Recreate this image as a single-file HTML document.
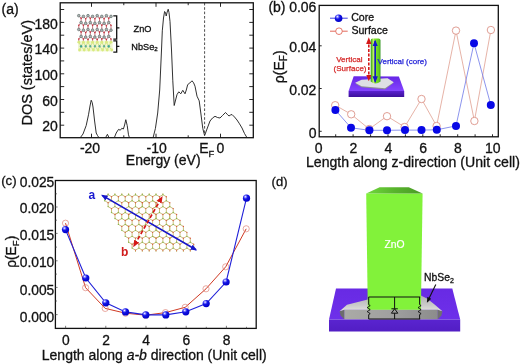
<!DOCTYPE html>
<html><head><meta charset="utf-8"><title>Figure</title>
<style>
html,body{margin:0;padding:0;background:#fff;}
body{width:520px;height:364px;overflow:hidden;}
svg{display:block;filter:blur(0.35px);}
text{font-family:"Liberation Sans",sans-serif;fill:#111;stroke:#111;stroke-width:0.3px;}
.t14{font-size:14px}
.t135{font-size:13.8px}
.ax{fill:none;stroke:#111;stroke-width:1.3}
.tk{stroke:#111;stroke-width:0.9;fill:none}
</style></head><body>
<svg width="520" height="364" viewBox="0 0 520 364">
<defs>
<radialGradient id="ball" cx="0.35" cy="0.3" r="0.7">
<stop offset="0" stop-color="#ffffff"/><stop offset="0.18" stop-color="#8a8aff"/><stop offset="0.45" stop-color="#1414e6"/><stop offset="1" stop-color="#0000c8"/>
</radialGradient>
<linearGradient id="ptop" x1="0" y1="0" x2="0" y2="1"><stop offset="0" stop-color="#682ae4"/><stop offset="1" stop-color="#6e30ea"/></linearGradient>
<linearGradient id="pfront" x1="0" y1="0" x2="0" y2="1"><stop offset="0" stop-color="#5a24d0"/><stop offset="1" stop-color="#521ec4"/></linearGradient>
<linearGradient id="ptop2" x1="0" y1="0" x2="0" y2="1"><stop offset="0" stop-color="#6626e6"/><stop offset="1" stop-color="#8444ff"/></linearGradient>
<linearGradient id="pfront2" x1="0" y1="0" x2="0" y2="1"><stop offset="0" stop-color="#5a20d0"/><stop offset="1" stop-color="#3c109a"/></linearGradient>
<linearGradient id="flkf" x1="0" y1="0" x2="1" y2="0"><stop offset="0" stop-color="#aaaaa6"/><stop offset="0.5" stop-color="#a0a0a0"/><stop offset="1" stop-color="#8c8c8c"/></linearGradient>
<linearGradient id="rodtop" x1="0" y1="0" x2="1" y2="0"><stop offset="0" stop-color="#70d83c"/><stop offset="0.5" stop-color="#58b42c"/><stop offset="1" stop-color="#4a9a26"/></linearGradient>
<linearGradient id="flk" x1="0" y1="0" x2="0" y2="1"><stop offset="0" stop-color="#b2b2b2"/><stop offset="0.6" stop-color="#cacaca"/><stop offset="1" stop-color="#e2e2de"/></linearGradient>
<linearGradient id="rodb" x1="0" y1="0" x2="1" y2="0">
<stop offset="0" stop-color="#3c9c28"/><stop offset="0.12" stop-color="#5cc422"/><stop offset="0.27" stop-color="#c8f070"/><stop offset="0.4" stop-color="#7ee030"/><stop offset="0.6" stop-color="#74dc24"/><stop offset="0.86" stop-color="#60c820"/><stop offset="1" stop-color="#3a9a28"/>
</linearGradient>
<marker id="ab" viewBox="0 0 10 10" refX="8" refY="5" markerWidth="4.2" markerHeight="4.2" orient="auto-start-reverse"><path d="M0,1 L10,5 L0,9 z" fill="#1616cc"/></marker>
<marker id="ar" viewBox="0 0 10 10" refX="6" refY="5" markerWidth="4.2" markerHeight="4.2" orient="auto-start-reverse"><path d="M0,1 L10,5 L0,9 z" fill="#d41818"/></marker>
<marker id="ak" viewBox="0 0 10 10" refX="8" refY="5" markerWidth="5" markerHeight="5" orient="auto"><path d="M0,1 L10,5 L0,9 z" fill="#111"/></marker>
</defs>
<rect width="520" height="364" fill="#fff"/>

<g id="panel-a">
<rect class="ax" x="60.2" y="2.8" width="193.10000000000002" height="134.89999999999998"/>
<path class="tk" d="M60.2,125.2h4.0M253.3,125.2h-4.0M60.2,112.3h4.0M253.3,112.3h-4.0M60.2,99.5h4.0M253.3,99.5h-4.0M60.2,86.6h4.0M253.3,86.6h-4.0M60.2,73.8h4.0M253.3,73.8h-4.0M60.2,60.9h4.0M253.3,60.9h-4.0M60.2,48.1h4.0M253.3,48.1h-4.0M60.2,35.2h4.0M253.3,35.2h-4.0M60.2,22.4h4.0M253.3,22.4h-4.0M60.2,9.5h4.0M253.3,9.5h-4.0M91.5,137.7v-4.0M91.5,2.8v4.0M123.8,137.7v-2.4M123.8,2.8v2.4M156.0,137.7v-4.0M156.0,2.8v4.0M188.2,137.7v-2.4M188.2,2.8v2.4M220.5,137.7v-4.0M220.5,2.8v4.0"/>
<text class="t14" x="57.8" y="28.6" text-anchor="end">180</text>
<text class="t14" x="57.8" y="54.3" text-anchor="end">140</text>
<text class="t14" x="57.8" y="80.0" text-anchor="end">100</text>
<text class="t14" x="57.8" y="105.7" text-anchor="end">60</text>
<text class="t14" x="57.8" y="131.3" text-anchor="end">20</text>
<text class="t14" x="90" y="153" text-anchor="middle">-20</text>
<text class="t14" x="156.6" y="153" text-anchor="middle">-10</text>
<text class="t14" x="220.4" y="153" text-anchor="middle">0</text>
<text class="t14" x="199.3" y="153.3">E<tspan font-size="9.4" dy="3.6" dx="-0.2">F</tspan></text>
<text class="t14" x="163.2" y="164.8" text-anchor="middle">Energy (eV)</text>
<text font-size="14.5" transform="translate(32,72.8) rotate(-90)" text-anchor="middle">DOS (states/eV)</text>
<text font-size="14" x="1.5" y="14.2">(a)</text>
<path d="M80.0,138.0 L83.0,134.0 L86.2,125.5 L88.5,114.8 L90.0,106.0 L91.2,100.2 L92.2,102.5 L93.0,107.0 L94.6,121.0 L96.2,133.0 L97.5,135.5 L99.2,138.0 M105.4,138.0 L107.4,134.3 L109.2,138.0 M114.2,138.0 L116.2,133.0 L118.5,129.4 L120.3,130.2 L121.8,128.3 L123.4,129.0 L124.6,125.0 L125.8,119.7 L127.2,125.5 L128.5,134.8 L129.5,138.0 M153.0,138.0 L155.4,128.5 L157.7,113.0 L159.7,90.0 L161.5,50.0 L162.3,30.8 L163.5,18.0 L164.6,11.5 L165.5,12.5 L166.2,16.0 L167.2,12.0 L168.2,9.2 L169.0,12.5 L170.0,21.5 L171.5,50.0 L172.8,80.8 L174.2,105.5 L175.6,100.0 L177.0,94.6 L178.8,91.8 L180.8,93.8 L182.8,90.3 L185.0,93.8 L186.3,90.0 L187.7,84.6 L189.8,83.0 L192.0,80.8 L193.6,82.8 L195.0,86.2 L197.0,96.2 L199.2,100.8 L200.8,113.0 L202.8,128.5 L204.6,135.6 L207.0,129.0 L210.0,121.0 L212.5,118.0 L215.0,116.3 L217.5,117.5 L220.0,118.0 L222.5,115.5 L225.5,112.5 L227.5,114.6 L229.0,116.0 L230.5,115.0 L232.0,114.5 L234.5,117.0 L237.0,120.0 L239.5,123.8 L242.0,128.0 L244.5,133.5 L247.0,137.7" fill="none" stroke="#1a1a1a" stroke-width="0.9" stroke-linejoin="round"/>
<path d="M204.6,2.8 V135" stroke="#222" stroke-width="0.8" stroke-dasharray="2.6 1.8" fill="none"/>
<g id="a-inset">
<path d="M78.8,15.7L81.1,18.3M81.1,18.3L83.4,16.4M81.1,18.3v4.3M83.4,16.4L85.7,18.8M85.7,18.8L88.0,15.7M85.7,18.8v4.3M88.0,15.7L90.3,18.3M90.3,18.3L92.6,16.4M90.3,18.3v4.3M92.6,16.4L94.9,18.8M94.9,18.8L97.2,15.7M94.9,18.8v4.3M97.2,15.7L99.5,18.3M99.5,18.3L101.8,16.4M99.5,18.3v4.3M101.8,16.4L104.1,18.8M104.1,18.8L106.4,15.7M104.1,18.8v4.3M106.4,15.7L108.7,18.3M108.7,18.3L111.0,16.4M108.7,18.3v4.3M81.1,22.6L83.4,25.2M83.4,25.2L85.7,23.3M83.4,25.2v4.3M85.7,23.3L88.0,25.7M88.0,25.7L90.3,22.6M88.0,25.7v4.3M90.3,22.6L92.6,25.2M92.6,25.2L94.9,23.3M92.6,25.2v4.3M94.9,23.3L97.2,25.7M97.2,25.7L99.5,22.6M97.2,25.7v4.3M99.5,22.6L101.8,25.2M101.8,25.2L104.1,23.3M101.8,25.2v4.3M104.1,23.3L106.4,25.7M106.4,25.7L108.7,22.6M106.4,25.7v4.3M108.7,22.6L111.0,25.2M111.0,25.2v4.3M78.8,25.2L81.1,22.6M78.8,25.2v4.3M78.8,29.5L81.1,32.1M81.1,32.1L83.4,30.2M81.1,32.1v4.3M83.4,30.2L85.7,32.6M85.7,32.6L88.0,29.5M85.7,32.6v4.3M88.0,29.5L90.3,32.1M90.3,32.1L92.6,30.2M90.3,32.1v4.3M92.6,30.2L94.9,32.6M94.9,32.6L97.2,29.5M94.9,32.6v4.3M97.2,29.5L99.5,32.1M99.5,32.1L101.8,30.2M99.5,32.1v4.3M101.8,30.2L104.1,32.6M104.1,32.6L106.4,29.5M104.1,32.6v4.3M106.4,29.5L108.7,32.1M108.7,32.1L111.0,30.2M108.7,32.1v4.3M81.1,36.4L83.4,39.0M83.4,39.0L85.7,37.1M83.4,39.0v3.2M85.7,37.1L88.0,39.5M88.0,39.5L90.3,36.4M88.0,39.5v3.2M90.3,36.4L92.6,39.0M92.6,39.0L94.9,37.1M92.6,39.0v3.2M94.9,37.1L97.2,39.5M97.2,39.5L99.5,36.4M97.2,39.5v3.2M99.5,36.4L101.8,39.0M101.8,39.0L104.1,37.1M101.8,39.0v3.2M104.1,37.1L106.4,39.5M106.4,39.5L108.7,36.4M106.4,39.5v3.2M108.7,36.4L111.0,39.0M111.0,39.0v3.2M78.8,39.0L81.1,36.4M78.8,39.0v3.2" stroke="#b4505c" stroke-width="0.8" fill="none"/>
<circle cx="81.1" cy="18.3" r="0.8" fill="#c8323c"/>
<circle cx="85.7" cy="18.8" r="0.8" fill="#c8323c"/>
<circle cx="90.3" cy="18.3" r="0.8" fill="#c8323c"/>
<circle cx="94.9" cy="18.8" r="0.8" fill="#c8323c"/>
<circle cx="99.5" cy="18.3" r="0.8" fill="#c8323c"/>
<circle cx="104.1" cy="18.8" r="0.8" fill="#c8323c"/>
<circle cx="108.7" cy="18.3" r="0.8" fill="#c8323c"/>
<circle cx="83.4" cy="25.2" r="0.8" fill="#c8323c"/>
<circle cx="88.0" cy="25.7" r="0.8" fill="#c8323c"/>
<circle cx="92.6" cy="25.2" r="0.8" fill="#c8323c"/>
<circle cx="97.2" cy="25.7" r="0.8" fill="#c8323c"/>
<circle cx="101.8" cy="25.2" r="0.8" fill="#c8323c"/>
<circle cx="106.4" cy="25.7" r="0.8" fill="#c8323c"/>
<circle cx="111.0" cy="25.2" r="0.8" fill="#c8323c"/>
<circle cx="78.8" cy="25.2" r="0.8" fill="#c8323c"/>
<circle cx="81.1" cy="32.1" r="0.8" fill="#c8323c"/>
<circle cx="85.7" cy="32.6" r="0.8" fill="#c8323c"/>
<circle cx="90.3" cy="32.1" r="0.8" fill="#c8323c"/>
<circle cx="94.9" cy="32.6" r="0.8" fill="#c8323c"/>
<circle cx="99.5" cy="32.1" r="0.8" fill="#c8323c"/>
<circle cx="104.1" cy="32.6" r="0.8" fill="#c8323c"/>
<circle cx="108.7" cy="32.1" r="0.8" fill="#c8323c"/>
<circle cx="83.4" cy="39.0" r="0.8" fill="#c8323c"/>
<circle cx="88.0" cy="39.5" r="0.8" fill="#c8323c"/>
<circle cx="92.6" cy="39.0" r="0.8" fill="#c8323c"/>
<circle cx="97.2" cy="39.5" r="0.8" fill="#c8323c"/>
<circle cx="101.8" cy="39.0" r="0.8" fill="#c8323c"/>
<circle cx="106.4" cy="39.5" r="0.8" fill="#c8323c"/>
<circle cx="111.0" cy="39.0" r="0.8" fill="#c8323c"/>
<circle cx="78.8" cy="39.0" r="0.8" fill="#c8323c"/>
<circle cx="78.8" cy="15.7" r="1.35" fill="#aab4b2" stroke="#5a6664" stroke-width="0.6"/>
<circle cx="83.4" cy="16.4" r="1.35" fill="#aab4b2" stroke="#5a6664" stroke-width="0.6"/>
<circle cx="88.0" cy="15.7" r="1.35" fill="#aab4b2" stroke="#5a6664" stroke-width="0.6"/>
<circle cx="92.6" cy="16.4" r="1.35" fill="#aab4b2" stroke="#5a6664" stroke-width="0.6"/>
<circle cx="97.2" cy="15.7" r="1.35" fill="#aab4b2" stroke="#5a6664" stroke-width="0.6"/>
<circle cx="101.8" cy="16.4" r="1.35" fill="#aab4b2" stroke="#5a6664" stroke-width="0.6"/>
<circle cx="106.4" cy="15.7" r="1.35" fill="#aab4b2" stroke="#5a6664" stroke-width="0.6"/>
<circle cx="111.0" cy="16.4" r="1.35" fill="#aab4b2" stroke="#5a6664" stroke-width="0.6"/>
<circle cx="81.1" cy="22.6" r="1.35" fill="#aab4b2" stroke="#5a6664" stroke-width="0.6"/>
<circle cx="85.7" cy="23.3" r="1.35" fill="#aab4b2" stroke="#5a6664" stroke-width="0.6"/>
<circle cx="90.3" cy="22.6" r="1.35" fill="#aab4b2" stroke="#5a6664" stroke-width="0.6"/>
<circle cx="94.9" cy="23.3" r="1.35" fill="#aab4b2" stroke="#5a6664" stroke-width="0.6"/>
<circle cx="99.5" cy="22.6" r="1.35" fill="#aab4b2" stroke="#5a6664" stroke-width="0.6"/>
<circle cx="104.1" cy="23.3" r="1.35" fill="#aab4b2" stroke="#5a6664" stroke-width="0.6"/>
<circle cx="108.7" cy="22.6" r="1.35" fill="#aab4b2" stroke="#5a6664" stroke-width="0.6"/>
<circle cx="78.8" cy="29.5" r="1.35" fill="#aab4b2" stroke="#5a6664" stroke-width="0.6"/>
<circle cx="83.4" cy="30.2" r="1.35" fill="#aab4b2" stroke="#5a6664" stroke-width="0.6"/>
<circle cx="88.0" cy="29.5" r="1.35" fill="#aab4b2" stroke="#5a6664" stroke-width="0.6"/>
<circle cx="92.6" cy="30.2" r="1.35" fill="#aab4b2" stroke="#5a6664" stroke-width="0.6"/>
<circle cx="97.2" cy="29.5" r="1.35" fill="#aab4b2" stroke="#5a6664" stroke-width="0.6"/>
<circle cx="101.8" cy="30.2" r="1.35" fill="#aab4b2" stroke="#5a6664" stroke-width="0.6"/>
<circle cx="106.4" cy="29.5" r="1.35" fill="#aab4b2" stroke="#5a6664" stroke-width="0.6"/>
<circle cx="111.0" cy="30.2" r="1.35" fill="#aab4b2" stroke="#5a6664" stroke-width="0.6"/>
<circle cx="81.1" cy="36.4" r="1.35" fill="#aab4b2" stroke="#5a6664" stroke-width="0.6"/>
<circle cx="85.7" cy="37.1" r="1.35" fill="#aab4b2" stroke="#5a6664" stroke-width="0.6"/>
<circle cx="90.3" cy="36.4" r="1.35" fill="#aab4b2" stroke="#5a6664" stroke-width="0.6"/>
<circle cx="94.9" cy="37.1" r="1.35" fill="#aab4b2" stroke="#5a6664" stroke-width="0.6"/>
<circle cx="99.5" cy="36.4" r="1.35" fill="#aab4b2" stroke="#5a6664" stroke-width="0.6"/>
<circle cx="104.1" cy="37.1" r="1.35" fill="#aab4b2" stroke="#5a6664" stroke-width="0.6"/>
<circle cx="108.7" cy="36.4" r="1.35" fill="#aab4b2" stroke="#5a6664" stroke-width="0.6"/>
<rect x="78" y="40.8" width="34.6" height="10.6" fill="#e8f2b0" opacity="0.6"/>
<path d="M78.8,42.2L81.1,46.3L79.6,50M81.1,46.3L83.4,42.2M81.1,46.3L84.2,50M83.4,42.2L85.7,46.3L84.2,50M85.7,46.3L88.0,42.2M85.7,46.3L88.8,50M88.0,42.2L90.3,46.3L88.8,50M90.3,46.3L92.6,42.2M90.3,46.3L93.4,50M92.6,42.2L94.9,46.3L93.4,50M94.9,46.3L97.2,42.2M94.9,46.3L98.0,50M97.2,42.2L99.5,46.3L98.0,50M99.5,46.3L101.8,42.2M99.5,46.3L102.6,50M101.8,42.2L104.1,46.3L102.6,50M104.1,46.3L106.4,42.2M104.1,46.3L107.2,50M106.4,42.2L108.7,46.3L107.2,50M108.7,46.3L111.0,42.2M108.7,46.3L111.8,50" stroke="#cbde78" stroke-width="0.8" fill="none"/>
<circle cx="78.8" cy="42.2" r="1.4" fill="#d8ea80"/>
<circle cx="79.6" cy="50.0" r="1.4" fill="#d8ea80"/>
<circle cx="83.4" cy="42.2" r="1.4" fill="#d8ea80"/>
<circle cx="84.2" cy="50.0" r="1.4" fill="#d8ea80"/>
<circle cx="88.0" cy="42.2" r="1.4" fill="#d8ea80"/>
<circle cx="88.8" cy="50.0" r="1.4" fill="#d8ea80"/>
<circle cx="92.6" cy="42.2" r="1.4" fill="#d8ea80"/>
<circle cx="93.4" cy="50.0" r="1.4" fill="#d8ea80"/>
<circle cx="97.2" cy="42.2" r="1.4" fill="#d8ea80"/>
<circle cx="98.0" cy="50.0" r="1.4" fill="#d8ea80"/>
<circle cx="101.8" cy="42.2" r="1.4" fill="#d8ea80"/>
<circle cx="102.6" cy="50.0" r="1.4" fill="#d8ea80"/>
<circle cx="106.4" cy="42.2" r="1.4" fill="#d8ea80"/>
<circle cx="107.2" cy="50.0" r="1.4" fill="#d8ea80"/>
<circle cx="111.0" cy="42.2" r="1.4" fill="#d8ea80"/>
<circle cx="111.8" cy="50.0" r="1.4" fill="#d8ea80"/>
<circle cx="81.1" cy="46.3" r="1.15" fill="#3aa898" stroke="#2e8c7e" stroke-width="0.3"/>
<circle cx="85.7" cy="46.3" r="0.95" fill="#62b4a2" stroke="#2e8c7e" stroke-width="0.3"/>
<circle cx="90.3" cy="46.3" r="0.95" fill="#62b4a2" stroke="#2e8c7e" stroke-width="0.3"/>
<circle cx="94.9" cy="46.3" r="0.95" fill="#62b4a2" stroke="#2e8c7e" stroke-width="0.3"/>
<circle cx="99.5" cy="46.3" r="0.95" fill="#62b4a2" stroke="#2e8c7e" stroke-width="0.3"/>
<circle cx="104.1" cy="46.3" r="0.95" fill="#62b4a2" stroke="#2e8c7e" stroke-width="0.3"/>
<circle cx="108.7" cy="46.3" r="1.15" fill="#3aa898" stroke="#2e8c7e" stroke-width="0.3"/>
</g>
<path d="M113.3,15.8H116.7V39.1H113.3M116.7,27.9H119.4M113.3,40.9H116.7V52.1H113.3M116.7,46.4H119.4" fill="none" stroke="#111" stroke-width="1.3"/>
<text font-size="9.2" x="133.6" y="31.5">ZnO</text>
<text font-size="9.2" x="131.3" y="49.6">NbSe<tspan font-size="6.2" dy="1.8">2</tspan></text>
</g>
<g id="panel-b">
<rect class="ax" x="319.2" y="5.4" width="179.10000000000002" height="131.4"/>
<path class="tk" d="M319.2,45.8h2.5M319.2,88.5h2.5M319.2,131.3h2.5M335.7,136.8v-2.5M353.1,136.8v-2.5M370.6,136.8v-2.5M388.0,136.8v-2.5M405.4,136.8v-2.5M422.8,136.8v-2.5M440.2,136.8v-2.5M457.7,136.8v-2.5M475.1,136.8v-2.5M492.5,136.8v-2.5"/>
<text class="t14" x="316.4" y="11.5" text-anchor="end">0.06</text>
<text class="t14" x="316.4" y="52.4" text-anchor="end">0.04</text>
<text class="t14" x="316.4" y="94.6" text-anchor="end">0.02</text>
<text class="t14" x="316.6" y="138" text-anchor="end">0</text>
<text class="t14" x="318.6" y="153.2" text-anchor="middle">0</text>
<text class="t14" x="353.4" y="153.2" text-anchor="middle">2</text>
<text class="t14" x="388.3" y="153.2" text-anchor="middle">4</text>
<text class="t14" x="423.1" y="153.2" text-anchor="middle">6</text>
<text class="t14" x="458.0" y="153.2" text-anchor="middle">8</text>
<text class="t14" x="492.8" y="153.2" text-anchor="middle">10</text>
<text font-size="14.1" x="306" y="167">Length along z-direction (Unit cell)</text>
<text class="t14" transform="translate(283.6,66.8) rotate(-90)" text-anchor="middle">ρ(E<tspan font-size="10" dy="3">F</tspan><tspan dy="-3">)</tspan></text>
<text font-size="14" x="268.4" y="11.5">(b)</text>
<path d="M335.2,105.2 L351.2,114.3 L369.2,129.0 L387.0,116.2 L404.6,127.0 L421.5,99.0 L436.6,126.0 L456.0,30.6 L474.4,121.0 L490.9,30.0" fill="none" stroke="#e0a090" stroke-width="0.8"/>
<path d="M335.4,110.0 L351.0,127.8 L369.4,130.3 L387.0,130.3 L405.0,130.1 L421.5,130.1 L436.8,129.8 L456.0,125.9 L474.0,43.3 L490.8,105.0" fill="none" stroke="#6e78e8" stroke-width="0.8"/>
<circle cx="335.2" cy="105.2" r="3.7" fill="#fff" stroke="#d8877a" stroke-width="0.8"/>
<circle cx="351.2" cy="114.3" r="3.7" fill="#fff" stroke="#d8877a" stroke-width="0.8"/>
<circle cx="369.2" cy="129" r="3.7" fill="#fff" stroke="#d8877a" stroke-width="0.8"/>
<circle cx="387" cy="116.2" r="3.7" fill="#fff" stroke="#d8877a" stroke-width="0.8"/>
<circle cx="404.6" cy="127" r="3.7" fill="#fff" stroke="#d8877a" stroke-width="0.8"/>
<circle cx="421.5" cy="99" r="3.7" fill="#fff" stroke="#d8877a" stroke-width="0.8"/>
<circle cx="436.6" cy="126" r="3.7" fill="#fff" stroke="#d8877a" stroke-width="0.8"/>
<circle cx="456" cy="30.6" r="3.7" fill="#fff" stroke="#d8877a" stroke-width="0.8"/>
<circle cx="474.4" cy="121" r="3.7" fill="#fff" stroke="#d8877a" stroke-width="0.8"/>
<circle cx="490.9" cy="30" r="3.7" fill="#fff" stroke="#d8877a" stroke-width="0.8"/>
<circle cx="335.4" cy="110" r="4" fill="#0808e6"/>
<circle cx="351" cy="127.8" r="4" fill="#0808e6"/>
<circle cx="369.4" cy="130.3" r="4" fill="#0808e6"/>
<circle cx="387" cy="130.3" r="4" fill="#0808e6"/>
<circle cx="405" cy="130.1" r="4" fill="#0808e6"/>
<circle cx="421.5" cy="130.1" r="4" fill="#0808e6"/>
<circle cx="436.8" cy="129.8" r="4" fill="#0808e6"/>
<circle cx="456" cy="125.9" r="4" fill="#0808e6"/>
<circle cx="474" cy="43.3" r="4" fill="#0808e6"/>
<circle cx="490.8" cy="105" r="4" fill="#0808e6"/>
<path d="M330,18.2H347.7" stroke="#2a2ae0" stroke-width="0.9"/><circle cx="338.6" cy="18.2" r="3.8" fill="url(#ball)"/>
<path d="M330,31.2H347.7" stroke="#e05848" stroke-width="0.9"/><circle cx="339" cy="31.2" r="3.3" fill="#fff" stroke="#e05848" stroke-width="0.8"/>
<text font-size="10.6" x="351.2" y="21">Core</text>
<text font-size="10.6" x="351.4" y="33.7">Surface</text>
<g id="b-inset">
<polygon points="353.7,76.2 398.9,76.4 404.2,91 348.6,91" fill="url(#ptop2)"/>
<polygon points="348.6,91 404.2,91 404.2,97 348.6,97" fill="url(#pfront2)"/>
<polygon points="355.2,83.4 361.6,80.2 387.6,78.6 393.7,82.8 385,89.4 361.6,87.3" fill="#8e8e96"/>
<polygon points="355.2,82.8 361.6,79.8 387.6,78.2 393.7,82.2 385,88.2 361.6,86.2" fill="#dedee4"/>
<path d="M370.7,40.6Q370.7,38.6 372.7,38.6H378.5Q380.5,38.6 380.5,40.6V81.6Q375.6,85.6 370.7,81.6Z" fill="url(#rodb)"/>
<path d="M375.2,41V81.6" stroke="#1616cc" stroke-width="1.6" marker-start="url(#ab)" marker-end="url(#ab)" fill="none"/>
<path d="M368.8,40V78.6" stroke="#d41818" stroke-width="1.6" stroke-dasharray="3 1.5" marker-start="url(#ar)" marker-end="url(#ar)" fill="none"/>
<text font-size="8" x="336.2" y="61.8" style="fill:#d62a2a;stroke:#d62a2a;stroke-width:0.25">Vertical</text>
<text font-size="8" x="333.6" y="71.4" style="fill:#d62a2a;stroke:#d62a2a;stroke-width:0.25">(Surface)</text>
<text font-size="8" x="377.6" y="63.7" style="fill:#2222d8;stroke:#2222d8;stroke-width:0.25">Vertical (core)</text>
</g>
</g>
<g id="panel-c">
<rect class="ax" x="55.4" y="180.5" width="200.79999999999998" height="147.89999999999998"/>
<path class="tk" style="stroke:#444;stroke-width:0.7" d="M55.4,207h2.2M55.4,233.4h2.2M55.4,260.8h2.2M55.4,287.4h2.2M55.4,314.6h2.2M55.4,220.2h1.6M55.4,247.1h1.6M55.4,274.1h1.6M55.4,301.0h1.6M55.4,193.8h1.6M65.6,328.4v-2.6M85.7,328.4v-1.6M105.8,328.4v-2.6M125.9,328.4v-1.6M146.0,328.4v-2.6M166.1,328.4v-1.6M186.2,328.4v-2.6M206.3,328.4v-1.6M226.4,328.4v-2.6M246.5,328.4v-1.6"/>
<text class="t135" x="54.3" y="187.1" text-anchor="end">0.025</text>
<text class="t135" x="54.3" y="213.0" text-anchor="end">0.020</text>
<text class="t135" x="54.3" y="239.5" text-anchor="end">0.015</text>
<text class="t135" x="54.3" y="266.8" text-anchor="end">0.010</text>
<text class="t135" x="54.3" y="294.6" text-anchor="end">0.005</text>
<text class="t135" x="54.3" y="321.5" text-anchor="end">0.000</text>
<text class="t135" x="65.8" y="344.6" text-anchor="middle">0</text>
<text class="t135" x="106.0" y="344.6" text-anchor="middle">2</text>
<text class="t135" x="146.2" y="344.6" text-anchor="middle">4</text>
<text class="t135" x="186.4" y="344.6" text-anchor="middle">6</text>
<text class="t135" x="226.6" y="344.6" text-anchor="middle">8</text>
<text font-size="14" x="41.8" y="359.6">Length along <tspan font-style="italic">a-b</tspan> direction (Unit cell)</text>
<text class="t135" transform="translate(15.6,251.8) rotate(-90)" text-anchor="middle">ρ(E<tspan font-size="9.6" dy="3">F</tspan><tspan dy="-3">)</tspan></text>
<text font-size="13.2" x="1.2" y="185.2">(c)</text>
<g id="c-inset">
<path d="M104.7,196.7L104.7,200.7M104.7,196.7L108.1,194.7M104.7,200.7L108.1,202.7M108.1,194.7L111.5,196.7M108.1,202.7L108.1,206.6M108.1,202.7L111.5,200.7M108.1,206.6L111.5,208.6M111.5,196.7L111.5,200.7M111.5,196.7L114.9,194.7M111.5,200.7L114.9,202.7M111.5,208.6L111.5,212.5M111.5,208.6L114.9,206.6M111.5,212.5L114.9,214.5M114.9,194.7L118.4,196.7M114.9,202.7L114.9,206.6M114.9,202.7L118.4,200.7M114.9,206.6L118.4,208.6M114.9,214.5L118.4,212.5M115.0,214.5L115.0,218.5M115.0,214.5L118.4,212.5M115.0,218.5L118.4,220.5M118.4,196.7L118.4,200.7M118.4,196.7L121.8,194.7M118.4,200.7L121.8,202.7M118.4,208.6L118.4,212.5M118.4,208.6L121.8,206.6M118.4,212.5L121.8,214.5M118.4,220.5L118.4,224.4M118.4,220.5L121.8,218.5M118.4,224.4L121.8,226.4M121.8,194.7L125.2,196.7M121.8,202.7L121.8,206.6M121.8,202.7L125.2,200.7M121.8,206.6L125.2,208.6M121.8,214.5L121.8,218.5M121.8,214.5L125.2,212.5M121.8,218.5L125.2,220.5M121.8,226.4L121.8,230.3M121.8,226.4L125.2,224.4M121.8,230.3L125.2,232.3M125.2,196.7L125.2,200.7M125.2,196.7L128.6,194.7M125.2,200.7L128.6,202.7M125.2,200.7L128.7,202.7M125.2,208.6L125.2,212.5M125.2,208.6L128.7,206.6M125.2,212.5L128.7,214.5M125.2,220.5L125.2,224.4M125.2,220.5L128.6,218.5M125.2,220.5L128.7,218.5M125.2,224.4L128.6,226.4M125.2,224.4L128.7,226.4M125.2,232.3L125.2,236.3M125.2,232.3L128.6,230.3M125.2,232.3L128.7,230.3M125.2,236.3L128.6,238.2M128.6,194.7L132.1,196.7M128.6,202.7L128.6,206.6M128.6,202.7L132.1,200.7M128.6,206.6L132.1,208.6M128.6,214.5L128.6,218.5M128.6,214.5L132.1,212.5M128.6,218.5L132.1,220.5M128.6,226.4L128.6,230.3M128.6,226.4L132.1,224.4M128.6,230.3L132.1,232.3M128.6,238.2L128.6,242.2M128.6,238.2L132.1,236.3M128.6,242.2L132.1,244.2M128.7,202.7L128.7,206.6M128.7,206.6L132.1,208.6M128.7,214.5L128.7,218.5M128.7,214.5L132.1,212.5M128.7,226.4L128.7,230.3M132.1,196.7L132.1,200.7M132.1,196.7L135.5,194.7M132.1,200.7L135.5,202.7M132.1,208.6L132.1,212.5M132.1,208.6L135.5,206.6M132.1,212.5L135.5,214.5M132.1,220.5L132.1,224.4M132.1,220.5L135.5,218.5M132.1,224.4L135.5,226.4M132.1,232.3L132.1,236.3M132.1,232.3L135.5,230.3M132.1,236.3L135.5,238.2M132.1,244.2L132.1,248.1M132.1,244.2L135.5,242.2M132.1,248.1L135.5,250.1M135.5,194.7L138.9,196.7M135.5,202.7L135.5,206.6M135.5,202.7L138.9,200.7M135.5,206.6L138.9,208.6M135.5,214.5L135.5,218.5M135.5,214.5L138.9,212.5M135.5,218.5L138.9,220.5M135.5,226.4L135.5,230.3M135.5,226.4L138.9,224.4M135.5,230.3L138.9,232.3M135.5,238.2L135.5,242.2M135.5,238.2L138.9,236.3M135.5,242.2L138.9,244.2M135.5,250.1L138.9,248.1M138.9,196.7L138.9,200.7M138.9,196.7L142.3,194.7M138.9,200.7L142.3,202.7M138.9,200.7L142.4,202.7M138.9,208.6L138.9,212.5M138.9,208.6L142.3,206.6M138.9,208.6L142.4,206.6M138.9,212.5L142.3,214.5M138.9,220.5L138.9,224.4M138.9,220.5L142.3,218.5M138.9,224.4L142.3,226.4M138.9,224.4L142.4,226.4M138.9,232.3L138.9,236.3M138.9,232.3L142.3,230.3M138.9,232.3L142.4,230.3M138.9,236.3L142.3,238.2M138.9,244.2L138.9,248.1M138.9,244.2L142.3,242.2M138.9,248.1L142.3,250.1M142.3,194.7L145.8,196.7M142.3,202.7L142.3,206.6M142.3,202.7L145.8,200.7M142.3,206.6L145.8,208.6M142.3,214.5L142.3,218.5M142.3,214.5L145.8,212.5M142.3,218.5L145.8,220.5M142.3,226.4L142.3,230.3M142.3,226.4L145.8,224.4M142.3,230.3L145.8,232.3M142.3,238.2L142.3,242.2M142.3,238.2L145.8,236.3M142.3,242.2L145.8,244.2M142.3,250.1L145.8,248.1M142.4,202.7L142.4,206.6M142.4,226.4L142.4,230.3M145.8,196.7L145.8,200.7M145.8,196.7L149.2,194.7M145.8,200.7L149.2,202.7M145.8,208.6L145.8,212.5M145.8,208.6L149.2,206.6M145.8,212.5L149.2,214.5M145.8,220.5L145.8,224.4M145.8,220.5L149.2,218.5M145.8,224.4L149.2,226.4M145.8,232.3L145.8,236.3M145.8,232.3L149.2,230.3M145.8,236.3L149.2,238.2M145.8,244.2L145.8,248.1M145.8,244.2L149.2,242.2M145.8,248.1L149.2,250.1M149.2,194.7L152.6,196.7M149.2,202.7L149.2,206.6M149.2,202.7L152.6,200.7M149.2,206.6L152.6,208.6M149.2,214.5L149.2,218.5M149.2,214.5L152.6,212.5M149.2,218.5L152.6,220.5M149.2,226.4L149.2,230.3M149.2,226.4L152.6,224.4M149.2,230.3L152.6,232.3M149.2,238.2L149.2,242.2M149.2,238.2L152.6,236.3M149.2,242.2L152.6,244.2M149.2,250.1L152.6,248.1M152.6,196.7L152.6,200.7M152.6,196.7L156.0,194.7M152.6,200.7L156.0,202.7M152.6,200.7L156.1,202.7M152.6,208.6L152.6,212.5M152.6,208.6L156.0,206.6M152.6,208.6L156.1,206.6M152.6,212.5L156.0,214.5M152.6,212.5L156.1,214.5M152.6,220.5L152.6,224.4M152.6,220.5L156.0,218.5M152.6,220.5L156.1,218.5M152.6,224.4L156.0,226.4M152.6,224.4L156.1,226.4M152.6,232.3L152.6,236.3M152.6,232.3L156.1,230.3M152.6,236.3L156.0,238.2M152.6,236.3L156.1,238.2M152.6,244.2L152.6,248.1M152.6,244.2L156.0,242.2M152.6,248.1L156.0,250.1M156.0,194.7L159.5,196.7M156.0,202.7L156.0,206.6M156.0,202.7L159.5,200.7M156.0,206.6L159.5,208.6M156.0,214.5L156.0,218.5M156.0,214.5L159.5,212.5M156.0,218.5L159.5,220.5M156.0,226.4L156.0,230.3M156.0,226.4L159.5,224.4M156.0,230.3L159.5,232.3M156.0,238.2L156.0,242.2M156.0,238.2L159.5,236.3M156.0,242.2L159.5,244.2M156.0,250.1L159.5,248.1M156.1,202.7L156.1,206.6M156.1,214.5L156.1,218.5M156.1,226.4L156.1,230.3M156.1,230.3L159.5,232.3M156.1,238.2L159.5,236.3M159.5,196.7L159.5,200.7M159.5,196.7L162.9,194.7M159.5,200.7L162.9,202.7M159.5,208.6L159.5,212.5M159.5,208.6L162.9,206.6M159.5,212.5L162.9,214.5M159.5,220.5L159.5,224.4M159.5,220.5L162.9,218.5M159.5,224.4L162.9,226.4M159.5,232.3L159.5,236.3M159.5,232.3L162.9,230.3M159.5,236.3L162.9,238.2M159.5,244.2L159.5,248.1M159.5,244.2L162.9,242.2M159.5,248.1L162.9,250.1M162.9,194.7L166.3,196.7M162.9,202.7L162.9,206.6M162.9,202.7L166.3,200.7M162.9,206.6L166.3,208.6M162.9,214.5L162.9,218.5M162.9,214.5L166.3,212.5M162.9,218.5L166.3,220.5M162.9,226.4L162.9,230.3M162.9,226.4L166.3,224.4M162.9,230.3L166.3,232.3M162.9,238.2L162.9,242.2M162.9,238.2L166.3,236.3M162.9,242.2L166.3,244.2M162.9,250.1L166.3,248.1M166.3,196.7L166.3,200.7M166.3,200.7L169.8,202.7M166.3,208.6L166.3,212.5M166.3,208.6L169.7,206.6M166.3,208.6L169.8,206.6M166.3,212.5L169.7,214.5M166.3,212.5L169.8,214.5M166.3,220.5L166.3,224.4M166.3,220.5L169.7,218.5M166.3,220.5L169.8,218.5M166.3,224.4L169.7,226.4M166.3,224.4L169.8,226.4M166.3,232.3L166.3,236.3M166.3,232.3L169.8,230.3M166.3,236.3L169.8,238.2M166.3,244.2L166.3,248.1M166.3,244.2L169.8,242.2M166.3,248.1L169.8,250.1M169.7,206.6L173.2,208.6M169.7,214.5L169.7,218.5M169.7,214.5L173.2,212.5M169.7,218.5L173.2,220.5M169.7,226.4L169.7,230.3M169.7,226.4L173.2,224.4M169.7,230.3L173.2,232.3M169.7,238.2L169.7,242.2M169.7,238.2L173.2,236.3M169.7,242.2L173.2,244.2M169.8,202.7L169.8,206.6M169.8,214.5L169.8,218.5M169.8,226.4L169.8,230.3M169.8,230.3L173.2,232.3M169.8,238.2L169.8,242.2M169.8,238.2L173.2,236.3M169.8,242.2L173.2,244.2M169.8,250.1L173.2,248.1M173.2,208.6L173.2,212.5M173.2,212.5L176.6,214.5M173.2,220.5L173.2,224.4M173.2,220.5L176.6,218.5M173.2,224.4L176.6,226.4M173.2,232.3L173.2,236.3M173.2,232.3L176.6,230.3M173.2,236.3L176.6,238.2M173.2,244.2L173.2,248.1M173.2,244.2L176.6,242.2M173.2,248.1L176.6,250.1M176.6,214.5L176.6,218.5M176.6,218.5L180.0,220.5M176.6,226.4L176.6,230.3M176.6,226.4L180.0,224.4M176.6,230.3L180.0,232.3M176.6,238.2L176.6,242.2M176.6,238.2L180.0,236.3M176.6,242.2L180.0,244.2M176.6,250.1L180.0,248.1M180.0,220.5L180.0,224.4M180.0,224.4L183.4,226.4M180.0,232.3L180.0,236.3M180.0,232.3L183.4,230.3M180.0,236.3L183.4,238.2M180.0,244.2L180.0,248.1M180.0,244.2L183.4,242.2M180.0,248.1L183.4,250.1M183.4,226.4L183.4,230.3M183.4,230.3L186.9,232.3M183.4,238.2L183.4,242.2M183.4,238.2L186.9,236.3M183.4,242.2L186.9,244.2M183.4,250.1L186.9,248.1M186.9,232.3L186.9,236.3M186.9,236.3L190.3,238.2M186.9,244.2L186.9,248.1M186.9,244.2L190.3,242.2M186.9,248.1L190.3,250.1M190.3,238.2L190.3,242.2M190.3,242.2L193.7,244.2M190.3,250.1L193.7,248.1M193.7,244.2L193.7,248.1M108.1,194.7v-1.6M114.9,194.7v-1.6M121.8,194.7v-1.6M128.6,194.7v-1.6M135.5,194.7v-1.6M142.3,194.7v-1.6M149.2,194.7v-1.6M156.0,194.7v-1.6M162.9,194.7v-1.6M135.5,250.1v1.9M142.3,250.1v1.9M149.2,250.1v1.9M156.0,250.1v1.9M162.9,250.1v1.9M169.8,250.1v1.9M176.6,250.1v1.9M183.4,250.1v1.9M190.3,250.1v1.9" stroke="#c2b468" stroke-width="0.85" fill="none"/>
<path d="M104.7,200.7h0M108.1,194.7h0M108.1,206.6h0M111.5,200.7h0M111.5,212.5h0M114.9,194.7h0M114.9,206.6h0M115.0,218.5h0M118.4,200.7h0M118.4,212.5h0M118.4,224.4h0M121.8,194.7h0M121.8,206.6h0M121.8,218.5h0M121.8,230.3h0M125.2,200.7h0M125.2,212.5h0M125.2,224.4h0M125.2,236.3h0M128.6,194.7h0M128.6,206.6h0M128.6,218.5h0M128.6,230.3h0M128.6,242.2h0M128.7,206.6h0M128.7,218.5h0M128.7,230.3h0M132.1,200.7h0M132.1,212.5h0M132.1,224.4h0M132.1,236.3h0M132.1,248.1h0M135.5,194.7h0M135.5,206.6h0M135.5,218.5h0M135.5,230.3h0M135.5,242.2h0M138.9,200.7h0M138.9,212.5h0M138.9,224.4h0M138.9,236.3h0M138.9,248.1h0M142.3,194.7h0M142.3,206.6h0M142.3,218.5h0M142.3,230.3h0M142.3,242.2h0M142.4,206.6h0M142.4,230.3h0M145.8,200.7h0M145.8,212.5h0M145.8,224.4h0M145.8,236.3h0M145.8,248.1h0M149.2,194.7h0M149.2,206.6h0M149.2,218.5h0M149.2,230.3h0M149.2,242.2h0M152.6,200.7h0M152.6,212.5h0M152.6,224.4h0M152.6,236.3h0M152.6,248.1h0M156.0,194.7h0M156.0,206.6h0M156.0,218.5h0M156.0,230.3h0M156.0,242.2h0M156.1,206.6h0M156.1,218.5h0M156.1,230.3h0M159.5,200.7h0M159.5,212.5h0M159.5,224.4h0M159.5,236.3h0M159.5,248.1h0M162.9,194.7h0M162.9,206.6h0M162.9,218.5h0M162.9,230.3h0M162.9,242.2h0M166.3,200.7h0M166.3,212.5h0M166.3,224.4h0M166.3,236.3h0M166.3,248.1h0M169.7,206.6h0M169.7,218.5h0M169.7,230.3h0M169.7,242.2h0M169.8,206.6h0M169.8,218.5h0M169.8,230.3h0M169.8,242.2h0M173.2,212.5h0M173.2,224.4h0M173.2,236.3h0M173.2,248.1h0M176.6,218.5h0M176.6,230.3h0M176.6,242.2h0M180.0,224.4h0M180.0,236.3h0M180.0,248.1h0M183.4,230.3h0M183.4,242.2h0M186.9,236.3h0M186.9,248.1h0M190.3,242.2h0M193.7,248.1h0" stroke="#84b84a" stroke-width="1.35" stroke-linecap="round" fill="none"/>
<path d="M104.7,196.7h0M108.1,202.7h0M111.5,196.7h0M111.5,208.6h0M114.9,202.7h0M114.9,214.5h0M115.0,214.5h0M118.4,196.7h0M118.4,208.6h0M118.4,220.5h0M121.8,202.7h0M121.8,214.5h0M121.8,226.4h0M125.2,196.7h0M125.2,208.6h0M125.2,220.5h0M125.2,232.3h0M128.6,202.7h0M128.6,214.5h0M128.6,226.4h0M128.6,238.2h0M128.7,202.7h0M128.7,214.5h0M128.7,226.4h0M132.1,196.7h0M132.1,208.6h0M132.1,220.5h0M132.1,232.3h0M132.1,244.2h0M135.5,202.7h0M135.5,214.5h0M135.5,226.4h0M135.5,238.2h0M135.5,250.1h0M138.9,196.7h0M138.9,208.6h0M138.9,220.5h0M138.9,232.3h0M138.9,244.2h0M142.3,202.7h0M142.3,214.5h0M142.3,226.4h0M142.3,238.2h0M142.3,250.1h0M142.4,202.7h0M142.4,226.4h0M145.8,196.7h0M145.8,208.6h0M145.8,220.5h0M145.8,232.3h0M145.8,244.2h0M149.2,202.7h0M149.2,214.5h0M149.2,226.4h0M149.2,238.2h0M149.2,250.1h0M152.6,196.7h0M152.6,208.6h0M152.6,220.5h0M152.6,232.3h0M152.6,244.2h0M156.0,202.7h0M156.0,214.5h0M156.0,226.4h0M156.0,238.2h0M156.0,250.1h0M156.1,202.7h0M156.1,214.5h0M156.1,226.4h0M156.1,238.2h0M159.5,196.7h0M159.5,208.6h0M159.5,220.5h0M159.5,232.3h0M159.5,244.2h0M162.9,202.7h0M162.9,214.5h0M162.9,226.4h0M162.9,238.2h0M162.9,250.1h0M166.3,196.7h0M166.3,208.6h0M166.3,220.5h0M166.3,232.3h0M166.3,244.2h0M169.7,214.5h0M169.7,226.4h0M169.7,238.2h0M169.8,202.7h0M169.8,214.5h0M169.8,226.4h0M169.8,238.2h0M169.8,250.1h0M173.2,208.6h0M173.2,220.5h0M173.2,232.3h0M173.2,244.2h0M176.6,214.5h0M176.6,226.4h0M176.6,238.2h0M176.6,250.1h0M180.0,220.5h0M180.0,232.3h0M180.0,244.2h0M183.4,226.4h0M183.4,238.2h0M183.4,250.1h0M186.9,232.3h0M186.9,244.2h0M190.3,238.2h0M190.3,250.1h0M193.7,244.2h0" stroke="#dc5844" stroke-width="1.35" stroke-linecap="round" fill="none"/>
<path d="M102.2,195.4L196,249.8" stroke="#1616cc" stroke-width="1.6" marker-start="url(#ab)" marker-end="url(#ab)" fill="none"/>
<path d="M161.2,198.4L134.6,244.8" stroke="#d41818" stroke-width="1.7" stroke-dasharray="3.8 2.4" marker-start="url(#ar)" marker-end="url(#ar)" fill="none"/>
<text font-size="12" font-weight="bold" x="88.6" y="198.8" style="fill:#1818d0;stroke:none">a</text>
<text font-size="12" font-weight="bold" x="121" y="256.3" style="fill:#d01c1c;stroke:none">b</text>
</g>
<path d="M65.5,223.2 L85.6,287.7 L105.2,308.4 L125.5,313.2 L145.8,315.2 L165.5,312.6 L185.2,307.3 L206.0,288.8 L225.7,266.8 L246.2,228.8" fill="none" stroke="#d03a24" stroke-width="1"/>
<circle cx="65.5" cy="223.2" r="3.1" fill="none" stroke="#e08478" stroke-width="0.7"/>
<circle cx="85.6" cy="287.7" r="3.1" fill="none" stroke="#e08478" stroke-width="0.7"/>
<circle cx="105.2" cy="308.4" r="3.1" fill="none" stroke="#e08478" stroke-width="0.7"/>
<circle cx="125.5" cy="313.2" r="3.1" fill="none" stroke="#e08478" stroke-width="0.7"/>
<circle cx="145.8" cy="315.2" r="3.1" fill="none" stroke="#e08478" stroke-width="0.7"/>
<circle cx="165.5" cy="312.6" r="3.1" fill="none" stroke="#e08478" stroke-width="0.7"/>
<circle cx="185.2" cy="307.3" r="3.1" fill="none" stroke="#e08478" stroke-width="0.7"/>
<circle cx="206" cy="288.8" r="3.1" fill="none" stroke="#e08478" stroke-width="0.7"/>
<circle cx="225.7" cy="266.8" r="3.1" fill="none" stroke="#e08478" stroke-width="0.7"/>
<circle cx="246.2" cy="228.8" r="3.1" fill="none" stroke="#e08478" stroke-width="0.7"/>
<path d="M65.5,229.6 L85.8,278.0 L105.8,302.8 L125.5,311.9 L145.8,314.9 L165.8,314.9 L185.8,311.8 L206.2,303.6 L226.1,282.0 L246.5,198.2" fill="none" stroke="#2020d8" stroke-width="1.1"/>
<circle cx="65.5" cy="229.6" r="3.6" fill="url(#ball)"/>
<circle cx="85.8" cy="278" r="3.6" fill="url(#ball)"/>
<circle cx="105.8" cy="302.8" r="3.6" fill="url(#ball)"/>
<circle cx="125.5" cy="311.9" r="3.6" fill="url(#ball)"/>
<circle cx="145.8" cy="314.9" r="3.6" fill="url(#ball)"/>
<circle cx="165.8" cy="314.9" r="3.6" fill="url(#ball)"/>
<circle cx="185.8" cy="311.8" r="3.6" fill="url(#ball)"/>
<circle cx="206.2" cy="303.6" r="3.6" fill="url(#ball)"/>
<circle cx="226.1" cy="282" r="3.6" fill="url(#ball)"/>
<circle cx="246.5" cy="198.2" r="3.6" fill="url(#ball)"/>
</g>
<g id="panel-d">
<text font-size="13" x="271.6" y="186.4">(d)</text>
<polygon points="336,288.6 452.3,288.6 460.2,319.4 329,319.4" fill="url(#ptop)"/>
<polygon points="329,319.4 460.2,319.4 460.2,331.4 329,331.4" fill="url(#pfront)"/>
<polygon points="344.2,309.6 437.8,309.6 437.8,319.2 344.2,319.2" fill="url(#flkf)"/>
<polygon points="339.6,311.2 344.2,309.6 344.2,319.2 340.6,315.4" fill="#6c6c6c"/>
<polygon points="442.4,311.2 437.8,309.6 437.8,319.2 441.4,315.4" fill="#707070"/>
<polygon points="339.6,311.2 347,304.8 367.8,299.4 420.8,295.6 427,298.4 434.6,304.4 442.4,311.2 437.8,309.8 344.2,309.8" fill="url(#flk)"/>
<polygon points="366.2,193.4 422.6,193.4 420.9,309.8 367.8,309.8" fill="#82f23a"/>
<polygon points="366.2,193.4 379.6,187.2 408.8,187.2 422.6,193.4" fill="url(#rodtop)"/>
<text font-size="10.4" x="394.5" y="248" text-anchor="middle" style="fill:#fff;stroke:#fff;stroke-width:0.2px">ZnO</text>
<path d="M368.7,297H420.2M368.7,319H420.2M394.6,297V308.6M394.6,313.2V319M391.4,313.2L394.6,308.8L397.8,313.2ZM391.4,308.8H397.8" fill="none" stroke="#111" stroke-width="1"/>
<path d="M368.7,297V304.6l1.5,1 l-1.5,1l-1.5,1 l1.5,1l1.5,1 l-1.5,1l-1.5,1 l1.5,1l1.5,1 l-1.5,1V319M419.6,297V304.6l1.5,1 l-1.5,1l-1.5,1 l1.5,1l1.5,1 l-1.5,1l-1.5,1 l1.5,1l1.5,1 l-1.5,1V319" fill="none" stroke="#111" stroke-width="1"/>
<text font-size="10.4" x="424" y="281.4">NbSe<tspan font-size="7" dy="2">2</tspan></text>
<path d="M435.8,284.4L427.4,301.8" stroke="#111" stroke-width="1.1" marker-end="url(#ak)" fill="none"/>
</g>
</svg></body></html>
